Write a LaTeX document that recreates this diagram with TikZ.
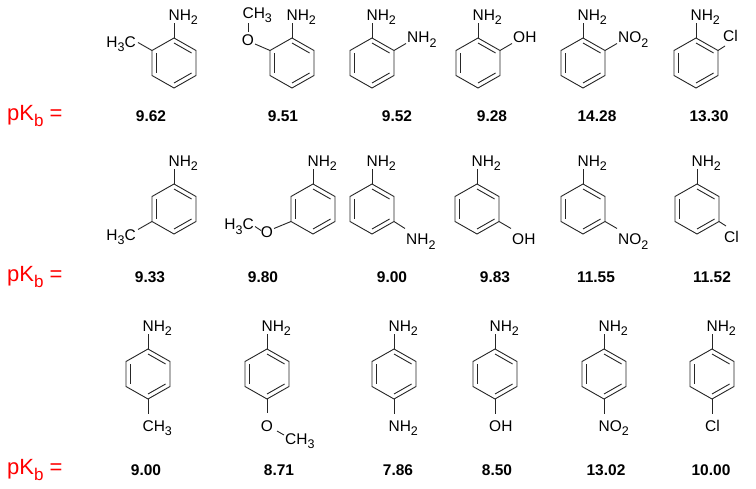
\documentclass[tikz,border=0pt]{standalone}
\usepackage{fontspec}
\setmainfont{Liberation Sans}
\usetikzlibrary{calc}
\newcommand\sbs[1]{\raisebox{-0.28em}{\fontsize{12.5}{12.5}\selectfont #1}}
\newcommand\sbb[1]{\raisebox{-0.25em}{\fontsize{17}{17}\selectfont #1}}
\tikzset{
  bond/.style={line width=0.9pt,black!85},
  atom/.style={inner sep=0pt,font=\fontsize{15.5}{15.5}\selectfont},
  pkval/.style={inner sep=0pt,font=\fontsize{15.5}{15.5}\selectfont\bfseries},
  pklab/.style={inner sep=0pt,anchor=west,text=red,font=\fontsize{22}{22}\selectfont},
}
\newcommand\benz[3]{%
  \coordinate (#1c) at (#2,#3);
  \coordinate (#1-1) at (#2,#3-25);
  \coordinate (#1-2) at (#2+22,#3-12.5);
  \coordinate (#1-3) at (#2+22,#3+12.5);
  \coordinate (#1-4) at (#2,#3+25);
  \coordinate (#1-5) at (#2-22,#3+12.5);
  \coordinate (#1-6) at (#2-22,#3-12.5);
  \draw[bond] (#1-1)--(#1-2)--(#1-3)--(#1-4)--(#1-5)--(#1-6)--cycle;
  \draw[bond] ($(#1c)!0.8!(#1-1)$)--($(#1c)!0.8!(#1-2)$);
  \draw[bond] ($(#1c)!0.8!(#1-3)$)--($(#1c)!0.8!(#1-4)$);
  \draw[bond] ($(#1c)!0.8!(#1-5)$)--($(#1c)!0.8!(#1-6)$);
  \coordinate (#1-t) at ($(#1-1)+(0,-15)$);
  \draw[bond] (#1-1)--(#1-t);
  \node[atom,anchor=base west] (#1-nh) at ($(#1-1)+(-5.6,-23+5.5)$) {NH\sbs{2}};
}
\newcommand\orth[3]{%
  \coordinate (#1-oe) at ($(#1-2)+(#3-1,-7)$);
  \draw[bond] (#1-2)--(#1-oe);
  \node[atom,anchor=base west] (#1-ol) at ($(#1-2)+(#3,-13+5.5)$) {#2};
}
\newcommand\meta[3]{%
  \coordinate (#1-me) at ($(#1-3)+(#3-1,7)$);
  \draw[bond] (#1-3)--(#1-me);
  \node[atom,anchor=base west] (#1-ml) at ($(#1-3)+(#3,18+5.5)$) {#2};
}
\newcommand\para[3]{%
  \coordinate (#1-pe) at ($(#1-4)+(0,15)$);
  \draw[bond] (#1-4)--(#1-pe);
  \node[atom,anchor=base west] (#1-pl) at ($(#1-4)+(-#3,27+5.5)$) {#2};
}
\begin{document}
\begin{tikzpicture}[x=1pt,y=-1pt]
\useasboundingbox[fill=white] (0,0) rectangle (756,489);

% ---------- row 1 (ortho)
\benz{r11}{174}{63}
\coordinate (r11-e) at ($(r11-6)+(-14,-8)$);
\draw[bond] (r11-6)--(r11-e);
\node[atom,anchor=base east] (r11-l) at ($(r11-6)+(-16,-8.5+5.5)$) {H\sbs{3}C};

\benz{r12}{292}{63}
\node[atom,anchor=base] (r12-o) at ($(r12-6)+(-22,-10.5+5.5)$) {O};
\coordinate (r12-e) at ($(r12-6)+(-15,-6.5)$);
\draw[bond] (r12-6)--(r12-e);
\coordinate (r12-v1) at ($(r12-6)+(-22,-18.5)$);
\coordinate (r12-v2) at ($(r12-6)+(-22,-27.5)$);
\draw[bond] (r12-v1)--(r12-v2);
\node[atom,anchor=base west] (r12-m) at ($(r12-6)+(-27.6,-37.5+5.5)$) {CH\sbs{3}};

\benz{r13}{372}{63}  \orth{r13}{NH\sbs{2}}{13}
\benz{r14}{478}{63}  \orth{r14}{OH}{13}
\benz{r15}{583}{63}  \orth{r15}{NO\sbs{2}}{13}
\benz{r16}{696}{63}
\coordinate (r16-oe) at ($(r16-2)+(7,-4.5)$);
\draw[bond] (r16-2)--(r16-oe);
\node[atom,anchor=base west] (r16-ol) at ($(r16-2)+(5,-14+5.5)$) {Cl};

% ---------- row 2 (meta)
\benz{r21}{174}{209}
\coordinate (r21-e) at ($(r21-5)+(-14,8)$);
\draw[bond] (r21-5)--(r21-e);
\node[atom,anchor=base east] (r21-l) at ($(r21-5)+(-16,13.5+5.5)$) {H\sbs{3}C};

\benz{r22}{313}{209}
\node[atom,anchor=base] (r22-o) at ($(r22-5)+(-24,11+5.5)$) {O};
\coordinate (r22-e) at ($(r22-5)+(-17,7)$);
\draw[bond] (r22-5)--(r22-e);
\coordinate (r22-b1) at ($(r22-5)+(-30,9)$);
\coordinate (r22-b2) at ($(r22-5)+(-36,5)$);
\draw[bond] (r22-b1)--(r22-b2);
\node[atom,anchor=base east] (r22-l) at ($(r22-5)+(-37,3+5.5)$) {H\sbs{3}C};

\benz{r23}{372}{209}  \meta{r23}{NH\sbs{2}}{12}
\benz{r24}{477}{209}  \meta{r24}{OH}{13}
\benz{r25}{583}{209}  \meta{r25}{NO\sbs{2}}{13}
\benz{r26}{697}{209}
\coordinate (r26-me) at ($(r26-3)+(7,4.5)$);
\draw[bond] (r26-3)--(r26-me);
\node[atom,anchor=base west] (r26-ml) at ($(r26-3)+(5,16+5.5)$) {Cl};

% ---------- row 3 (para)
\benz{r31}{148}{374}  \para{r31}{CH\sbs{3}}{5.6}
\benz{r32}{267}{374}
\coordinate (r32-pe) at ($(r32-4)+(0,14)$);
\draw[bond] (r32-4)--(r32-pe);
\node[atom,anchor=base] (r32-o) at ($(r32-4)+(0,27+5.5)$) {O};
\coordinate (r32-b1) at ($(r32-4)+(10,32)$);
\coordinate (r32-b2) at ($(r32-4)+(17,36)$);
\draw[bond] (r32-b1)--(r32-b2);
\node[atom,anchor=base west] (r32-m) at ($(r32-4)+(18,40+5.5)$) {CH\sbs{3}};
\benz{r33}{394}{374}  \para{r33}{NH\sbs{2}}{5.6}
\benz{r34}{495}{374}  \para{r34}{OH}{6}
\benz{r35}{604}{374}  \para{r35}{NO\sbs{2}}{5.6}
\benz{r36}{712}{374}  \para{r36}{Cl}{7}

% ---------- labels
\node[pklab] (p1) at (7,116) {pK\sbb{b} =};
\node[pklab] (p2) at (7,277) {pK\sbb{b} =};
\node[pklab] (p3) at (7,470) {pK\sbb{b} =};

\node[pkval] (n11) at (151,116) {9.62};
\node[pkval] (n12) at (283,116) {9.51};
\node[pkval] (n13) at (397,116) {9.52};
\node[pkval] (n14) at (492,116) {9.28};
\node[pkval] (n15) at (597,116) {14.28};
\node[pkval] (n16) at (709,116) {13.30};

\node[pkval] (n21) at (150,277) {9.33};
\node[pkval] (n22) at (263,277) {9.80};
\node[pkval] (n23) at (392,277) {9.00};
\node[pkval] (n24) at (495,277) {9.83};
\node[pkval] (n25) at (596,277) {11.55};
\node[pkval] (n26) at (712,277) {11.52};

\node[pkval] (n31) at (146,470) {9.00};
\node[pkval] (n32) at (279,470) {8.71};
\node[pkval] (n33) at (398,470) {7.86};
\node[pkval] (n34) at (497,470) {8.50};
\node[pkval] (n35) at (606,470) {13.02};
\node[pkval] (n36) at (711,470) {10.00};
\end{tikzpicture}
\end{document}
